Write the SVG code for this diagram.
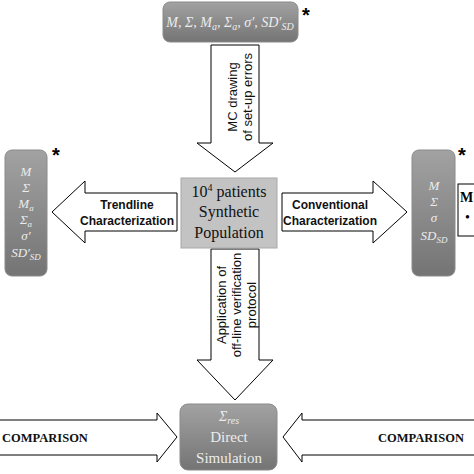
<svg xmlns="http://www.w3.org/2000/svg" width="474" height="474" viewBox="0 0 474 474">
<defs>
<linearGradient id="g" x1="0" y1="0" x2="0" y2="1">
<stop offset="0" stop-color="#a2a2a2"/>
<stop offset="1" stop-color="#747474"/>
</linearGradient>
<style>
.box{fill:url(#g);stroke:#8a8a8a;stroke-width:1}
.arr{fill:#fff;stroke:#000;stroke-width:1}
.math{font-family:"Liberation Serif",serif;font-style:italic;fill:#ececec;text-anchor:middle}
.lbl{font-family:"Liberation Sans",sans-serif;font-weight:bold;font-size:12px;fill:#111;text-anchor:middle}
.rot{font-family:"Liberation Sans",sans-serif;font-size:13px;fill:#111;text-anchor:middle}
.ser{font-family:"Liberation Serif",serif;fill:#111;text-anchor:middle}
.star{font-family:"Liberation Sans",sans-serif;font-weight:bold;font-size:20px;fill:#000}
</style>
</defs>
<rect width="474" height="474" fill="#fff"/>
<g id="connectors">
<polygon class="arr" points="211,45 259,45 259,143 273,143 235,172 197,143 211,143"/>
<polygon class="arr" points="211,249 259,249 259,360 273,360 235,400 197,360 211,360"/>
<polygon class="arr" points="177,193 85,193 85,181 52,212 85,243 85,231 177,231"/>
<polygon class="arr" points="282,193 373,193 373,181 407,212 373,243 373,231 282,231"/>
<polygon class="arr" points="-2,420 157,420 157,413 177,437 157,462 157,455 -2,455"/>
<polygon class="arr" points="476,420 302,420 302,413 283,437 302,462 302,455 476,455"/>
<text class="rot" transform="translate(235,97) rotate(-90)"><tspan x="0" y="2">MC drawing</tspan><tspan x="0" y="17">of set-up errors</tspan></text>
<text class="rot" transform="translate(235,305) rotate(-90)"><tspan x="0" y="-9">Application of</tspan><tspan x="0" y="6">off-line verification</tspan><tspan x="0" y="21">protocol</tspan></text>
<text class="lbl" x="127" y="209">Trendline</text>
<text class="lbl" x="127" y="225">Characterization</text>
<text class="lbl" x="330" y="209">Conventional</text>
<text class="lbl" x="330" y="225">Characterization</text>
<text class="ser" x="2" y="442" font-weight="bold" font-size="12.5" style="text-anchor:start">COMPARISON</text>
<text class="ser" x="421" y="442" font-weight="bold" font-size="12.5">COMPARISON</text>
</g>
<g id="top-params">
<rect class="box" x="163" y="2" width="135" height="40" rx="7"/>
<text class="math" x="230" y="27" font-size="14">M, Σ, M<tspan dy="3" font-size="10">a</tspan><tspan dy="-3">, Σ</tspan><tspan dy="3" font-size="10">a</tspan><tspan dy="-3">, σ′, SD′</tspan><tspan dy="3" font-size="10">SD</tspan></text>
<text class="star" x="302" y="22">*</text>
</g>
<g id="population">
<rect x="181" y="178" width="96" height="70" fill="#c3c3c3" stroke="#a8a8a8"/>
<text class="ser" x="229" y="197" font-size="16">10<tspan dy="-6" font-size="10">4</tspan><tspan dy="6"> patients</tspan></text>
<text class="ser" x="229" y="217" font-size="16">Synthetic</text>
<text class="ser" x="229" y="238" font-size="16">Population</text>
</g>
<g id="trendline-params">
<rect class="box" x="5" y="150" width="42" height="126" rx="7"/>
<text class="math" x="26" y="176" font-size="13">M</text>
<text class="math" x="26" y="192" font-size="13">Σ</text>
<text class="math" x="26" y="208" font-size="13">M<tspan dy="3" font-size="9">a</tspan></text>
<text class="math" x="26" y="224" font-size="13">Σ<tspan dy="3" font-size="9">a</tspan></text>
<text class="math" x="26" y="240" font-size="13">σ′</text>
<text class="math" x="26" y="257" font-size="13">SD′<tspan dy="3" font-size="9">SD</tspan></text>
<text class="star" x="52" y="162">*</text>
</g>
<g id="conventional-params">
<rect class="box" x="412" y="150" width="43" height="126" rx="7"/>
<text class="math" x="434" y="190" font-size="13">M</text>
<text class="math" x="434" y="206" font-size="13">Σ</text>
<text class="math" x="434" y="222" font-size="13">σ</text>
<text class="math" x="434" y="240" font-size="13">SD<tspan dy="3" font-size="9">SD</tspan></text>
<text class="star" x="458" y="162">*</text>
</g>
<g id="legend">
<rect x="458" y="184" width="30" height="52" fill="#fff" stroke="#000"/>
<text x="460" y="202" font-family="Liberation Serif,serif" font-weight="bold" font-size="14" fill="#000">M</text>
<text x="465" y="222" font-family="Liberation Serif,serif" font-size="14" fill="#000">•</text>
</g>
<g id="direct-simulation">
<rect class="box" x="180" y="404" width="97" height="66" rx="8"/>
<text class="math" x="229" y="421" font-size="14" font-style="normal">Σ<tspan dy="3" font-size="10" font-style="italic">res</tspan></text>
<text class="ser" x="229" y="442" font-size="15" style="fill:#ececec">Direct</text>
<text class="ser" x="229" y="463" font-size="15" style="fill:#ececec">Simulation</text>
</g>
</svg>
